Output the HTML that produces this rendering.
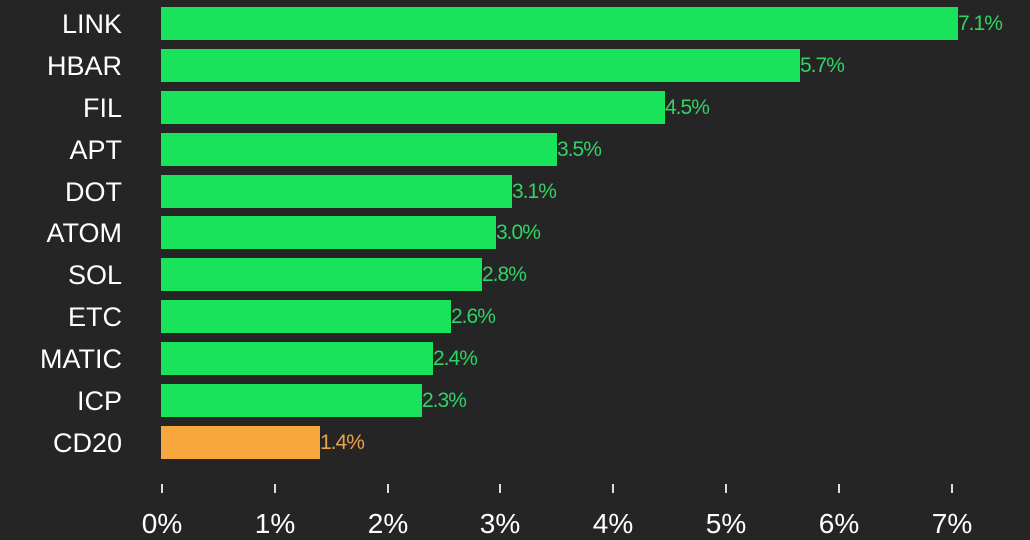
<html><head><style>
body{margin:0;width:1030px;height:539px;background:#252525;overflow:hidden;font-family:"Liberation Sans",sans-serif;position:relative}
.c{position:absolute;right:908px;color:#fff;font-size:27px;line-height:34px;text-align:right}
.b{position:absolute;left:161px;height:33px;background:#19e35b}
.v{position:absolute;color:#2fd464;font-size:21px;line-height:34px;letter-spacing:-1px}
.t{position:absolute;top:484px;width:2px;height:9px;background:#ddd}
.x{position:absolute;top:508px;color:#fff;font-size:28px;width:80px;text-align:center}
</style></head><body>
<div class="c" style="top:7px">LINK</div><div class="b" style="top:7px;width:797px"></div><div class="v" style="top:7px;left:958px">7.1%</div>
<div class="c" style="top:49px">HBAR</div><div class="b" style="top:49px;width:639px"></div><div class="v" style="top:49px;left:800px">5.7%</div>
<div class="c" style="top:91px">FIL</div><div class="b" style="top:91px;width:504px"></div><div class="v" style="top:91px;left:665px">4.5%</div>
<div class="c" style="top:133px">APT</div><div class="b" style="top:133px;width:396px"></div><div class="v" style="top:133px;left:557px">3.5%</div>
<div class="c" style="top:175px">DOT</div><div class="b" style="top:175px;width:351px"></div><div class="v" style="top:175px;left:512px">3.1%</div>
<div class="c" style="top:216px">ATOM</div><div class="b" style="top:216px;width:335px"></div><div class="v" style="top:216px;left:496px">3.0%</div>
<div class="c" style="top:258px">SOL</div><div class="b" style="top:258px;width:321px"></div><div class="v" style="top:258px;left:482px">2.8%</div>
<div class="c" style="top:300px">ETC</div><div class="b" style="top:300px;width:290px"></div><div class="v" style="top:300px;left:451px">2.6%</div>
<div class="c" style="top:342px">MATIC</div><div class="b" style="top:342px;width:272px"></div><div class="v" style="top:342px;left:433px">2.4%</div>
<div class="c" style="top:384px">ICP</div><div class="b" style="top:384px;width:261px"></div><div class="v" style="top:384px;left:422px">2.3%</div>
<div class="c" style="top:426px">CD20</div><div class="b" style="top:426px;width:159px;background:#f7a73c"></div><div class="v" style="top:426px;left:320px;color:#e9a24a">1.4%</div>
<div class="t" style="left:161px"></div><div class="x" style="left:122px">0%</div>
<div class="t" style="left:274px"></div><div class="x" style="left:235px">1%</div>
<div class="t" style="left:387px"></div><div class="x" style="left:348px">2%</div>
<div class="t" style="left:499px"></div><div class="x" style="left:460px">3%</div>
<div class="t" style="left:612px"></div><div class="x" style="left:573px">4%</div>
<div class="t" style="left:725px"></div><div class="x" style="left:686px">5%</div>
<div class="t" style="left:838px"></div><div class="x" style="left:799px">6%</div>
<div class="t" style="left:951px"></div><div class="x" style="left:912px">7%</div>
</body></html>
